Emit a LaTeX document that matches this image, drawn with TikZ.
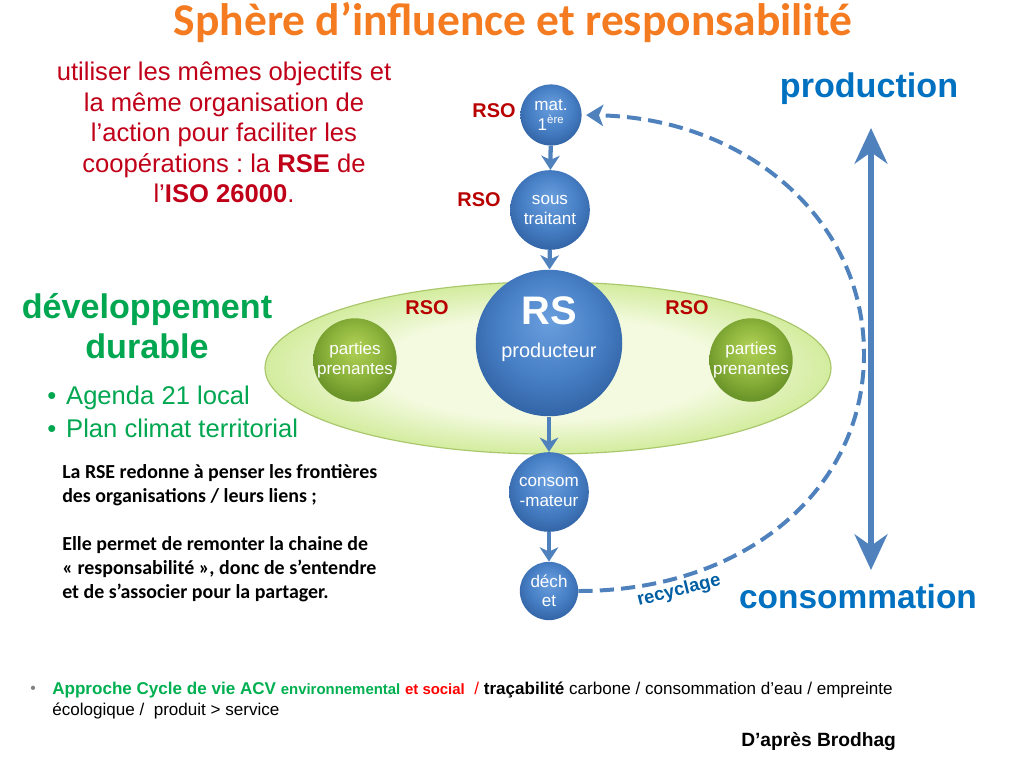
\documentclass[tikz,border=0pt]{standalone}
\usepackage{fontspec}
\setmainfont{Liberation Sans}
\newfontfamily\calfont{Carlito}
\usetikzlibrary{arrows.meta,shapes.geometric}
\frenchspacing
\definecolor{titleor}{HTML}{F47B20}
\definecolor{dred}{HTML}{C00018}
\definecolor{rsored}{HTML}{B80000}
\definecolor{dgreen}{HTML}{00A650}
\definecolor{bgreen}{HTML}{00B050}
\definecolor{pblue}{HTML}{0070C0}
\definecolor{arrblue}{HTML}{4F81BD}
\definecolor{blueL}{HTML}{6A9FDE}
\definecolor{blueM}{HTML}{4880C6}
\definecolor{blueD}{HTML}{2A5A9A}
\definecolor{greenL}{HTML}{B2D156}
\definecolor{greenM}{HTML}{8AB23A}
\definecolor{greenD}{HTML}{5A8420}
\definecolor{ellL}{HTML}{F3FADF}
\definecolor{ellD}{HTML}{D3EC9E}
\definecolor{ellB}{HTML}{A8C66A}
\pgfdeclareradialshading{bluesph}{\pgfpoint{0bp}{8bp}}{color(0bp)=(blueL); color(17bp)=(blueM); color(33bp)=(blueD); color(50bp)=(blueD)}
\pgfdeclareradialshading{greensph}{\pgfpoint{0bp}{8bp}}{color(0bp)=(greenL); color(17bp)=(greenM); color(33bp)=(greenD); color(50bp)=(greenD)}
\pgfdeclareradialshading{ellsh}{\pgfpoint{0bp}{0bp}}{color(0bp)=(ellL); color(15bp)=(ellL); color(25bp)=(ellD); color(50bp)=(ellD)}
\tikzset{
  ball/.style={circle, shading=bluesph, text=white, align=center, inner sep=0pt,
    font=\fontsize{12}{13.5}\selectfont},
  gball/.style={ball, shading=greensph},
  rso/.style={text=rsored, font=\bfseries\fontsize{14}{16}\selectfont},
  flow/.style={-{Stealth[length=10pt,width=13pt,inset=3pt]}, line width=3pt, draw=arrblue},
  recy/.style={-{Stealth[length=12pt,width=15pt,inset=3pt]}, line width=2.8pt, draw=arrblue,
    dash pattern=on 10pt off 5pt},
  axisarrow/.style={{Stealth[length=25pt,width=23pt,inset=8pt]}-{Stealth[length=25pt,width=23pt,inset=8pt]},
    line width=4.2pt, draw=arrblue},
}
\begin{document}
\begin{tikzpicture}[x=0.703125pt, y=-0.703125pt]
\useasboundingbox (0,0) rectangle (1024,768);

% title
\node[text=titleor, font=\calfont\bfseries\fontsize{32}{34}\selectfont] (title) at (513,23)
  {Sphère d’influence et responsabilité};

% red text
\node[anchor=north, align=center, inner sep=0pt, text=dred, font=\fontsize{18}{21.4}\selectfont] (obj) at (224,62)
  {utiliser les mêmes objectifs et\\la même organisation de\\l’action pour faciliter les\\coopérations : la \textbf{RSE} de\\l’\textbf{ISO 26000}.};

% ellipse
\node[ellipse, shading=ellsh, draw=ellB, line width=0.8pt, minimum width=398pt, minimum height=121pt] (ell) at (548,368) {};

% circles
\node[ball, minimum size=43pt] (mat) at (551,115) {mat.\\1\textsuperscript{ère}};
\node[ball, minimum size=56pt] (sous) at (550,210) {sous\\traitant};
\node[ball, minimum size=103pt] (rs) at (549,343) {};
\node[text=white, font=\bfseries\fontsize{28}{30}\selectfont] (rstxt) at (549,311) {RS};
\node[text=white, font=\fontsize{14}{16}\selectfont] (prod) at (549,352) {producteur};
\node[ball, minimum size=56pt] (cons) at (549,492) {consom\\-mateur};
\node[ball, minimum size=41pt] (dech) at (549,591) {déch\\et};
\node[gball, minimum size=56pt] (pp1) at (355,360) {parties\\prenantes};
\node[gball, minimum size=56pt] (pp2) at (751,360) {parties\\prenantes};

% RSO labels
\node[rso] (r1) at (494,111) {RSO};
\node[rso] (r2) at (479,200) {RSO};
\node[rso] (r3) at (427,308) {RSO};
\node[rso] (r4) at (687,308) {RSO};

% flow arrows
\draw[flow] (mat) -- (sous);
\draw[flow] (sous) -- (rs);
\draw[flow] (rs) -- (cons);
\draw[flow] (cons) -- (dech);

% recycling dashed curve
\coordinate (turn) at (864,354);
\draw[recy, shorten >=3pt] (dech.east) .. controls (745,591) and (864,490) .. (turn)
   .. controls (864,218) and (745,118) .. (mat.east);
\node[rotate=14, text=pblue!85!black, font=\bfseries\fontsize{13}{15}\selectfont] (recl) at (679,591) {recyclage};

% production / consommation
\node[text=pblue, font=\bfseries\fontsize{24}{28}\selectfont] (production) at (869,89) {production};
\node[text=pblue, font=\bfseries\fontsize{23.5}{28}\selectfont] (consommation) at (858,597) {consommation};
\coordinate (atop) at (871,128);
\coordinate (abot) at (871,570);
\draw[axisarrow] (abot) -- (atop);

% développement durable
\node[align=center, text=dgreen, font=\bfseries\fontsize{24}{28}\selectfont] (dd) at (147,326)
  {développement\\durable};
\node[anchor=west, text=dgreen, font=\fontsize{18}{21}\selectfont, inner sep=0pt] (b1) at (47,398) {•\hspace{7pt}Agenda 21 local};
\node[anchor=west, text=dgreen, font=\fontsize{18}{21}\selectfont, inner sep=0pt] (b2) at (47,428) {•\hspace{7pt}Plan climat territorial};

% black text
\node[anchor=north west, align=left, inner sep=0pt, font=\calfont\bfseries\fontsize{14}{16.9}\selectfont] (txt) at (62,464)
  {La RSE redonne à penser les frontières\\des organisations / leurs liens ;\\[16.9pt]Elle permet de remonter la chaine de\\« responsabilité », donc de s’entendre\\et de s’associer pour la partager.};

% bottom
\node[text=gray, font=\fontsize{11}{13}\selectfont] (bul) at (33,690) {•};
\node[anchor=north west, align=left, inner sep=0pt, font=\fontsize{12}{14.6}\selectfont] (bottom) at (52,682)
  {{\color{bgreen}\bfseries Approche Cycle de vie ACV {\fontsize{10.5}{12}\selectfont environnemental} }{\color{red}\bfseries\fontsize{10.5}{12}\selectfont et social}\ \ {\color{red}/} \textbf{traçabilité} carbone / consommation d’eau / empreinte\\écologique / \ produit > service};
\node[anchor=east, font=\bfseries\fontsize{13.5}{15}\selectfont] (brod) at (901,741) {D’après Brodhag};
\end{tikzpicture}
\end{document}
